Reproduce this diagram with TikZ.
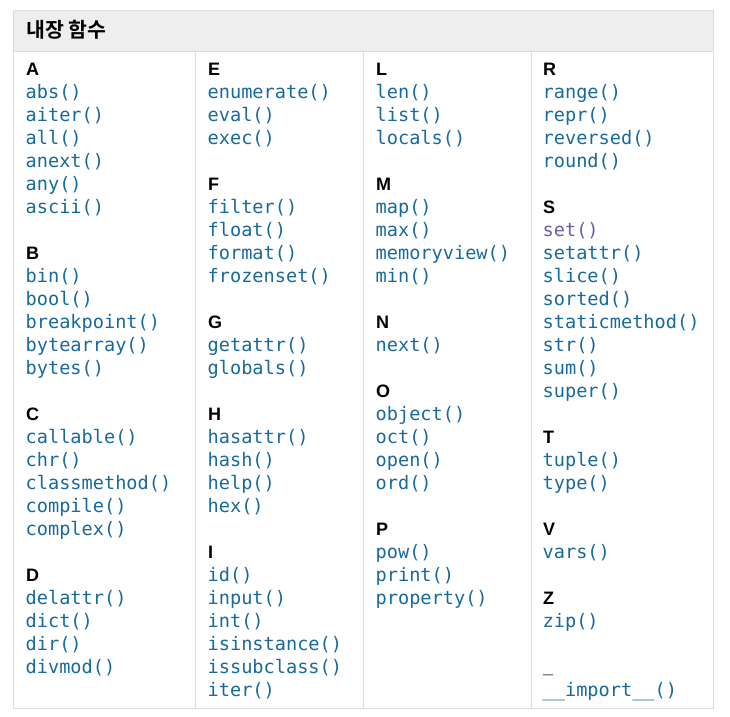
\documentclass[tikz,border=0pt]{standalone}
\usepackage{fontspec}
\setmainfont{Liberation Sans}
\newfontfamily\codefont{DejaVu Sans Mono}
\newfontfamily\krfont{Noto Sans CJK KR}[BoldFont={* Bold}]
\definecolor{linkblue}{HTML}{17699E}
\definecolor{visited}{HTML}{6A5CA8}
\definecolor{rulegray}{HTML}{DCDCDC}
\definecolor{headgray}{HTML}{EEEEEE}
\tikzset{
  head/.style={anchor=base west,inner sep=0pt,font=\fontsize{18}{18}\selectfont\bfseries,text=black},
  code/.style={anchor=base west,inner sep=0pt,font=\fontsize{18.6}{18.6}\codefont,text=linkblue},
  rulel/.style={draw=rulegray,line width=1pt}
}
\newcommand\grp[5]{%
  \node[head] (h-#5) at (#1, {-(75+23*#2)}) {#3};
  \foreach \t [count=\i] in {#4}
    \node[code] (c-#5-\i) at ({#1-0.5}, {-(75.5+23*(#2+\i))}) {\t};
}
\begin{document}
\begin{tikzpicture}[x=1pt,y=1pt]
\useasboundingbox (0,0) rectangle (730,-716);
% header
\fill[headgray] (13.5,-10.5) rectangle (713.5,-51);
\node[anchor=base west,inner sep=0pt,font=\fontsize{20.5}{20.5}\krfont\bfseries] (title) at (26,-37) {내장 함수};
\draw[rulel] (13.5,-10.5) rectangle (713.5,-708.5);
\draw[rulel] (13.5,-51) -- (713.5,-51);
\foreach \x in {195.5,363.5,531.5} \draw[rulel] (\x,-51) -- (\x,-708.5);
% column 1
\grp{26}{0}{A}{abs(),aiter(),all(),anext(),any(),ascii()}{A}
\grp{26}{8}{B}{bin(),bool(),breakpoint(),bytearray(),bytes()}{B}
\grp{26}{15}{C}{callable(),chr(),classmethod(),compile(),complex()}{C}
\grp{26}{22}{D}{delattr(),dict(),dir(),divmod()}{D}
% column 2
\grp{208}{0}{E}{enumerate(),eval(),exec()}{E}
\grp{208}{5}{F}{filter(),float(),format(),frozenset()}{F}
\grp{208}{11}{G}{getattr(),globals()}{G}
\grp{208}{15}{H}{hasattr(),hash(),help(),hex()}{H}
\grp{208}{21}{I}{id(),input(),int(),isinstance(),issubclass(),iter()}{I}
% column 3
\grp{376}{0}{L}{len(),list(),locals()}{L}
\grp{376}{5}{M}{map(),max(),memoryview(),min()}{M}
\grp{376}{11}{N}{next()}{N}
\grp{376}{14}{O}{object(),oct(),open(),ord()}{O}
\grp{376}{20}{P}{pow(),print(),property()}{P}
% column 4
\grp{543}{0}{R}{range(),repr(),reversed(),round()}{R}
\grp{543}{6}{S}{{\color{visited}set()},setattr(),slice(),sorted(),staticmethod(),str(),sum(),super()}{S}
\grp{543}{16}{T}{tuple(),type()}{T}
\grp{543}{20}{V}{vars()}{V}
\grp{543}{23}{Z}{zip()}{Z}
\grp{543}{26}{\_}{\_\_import\_\_()}{U}
\end{tikzpicture}
\end{document}
